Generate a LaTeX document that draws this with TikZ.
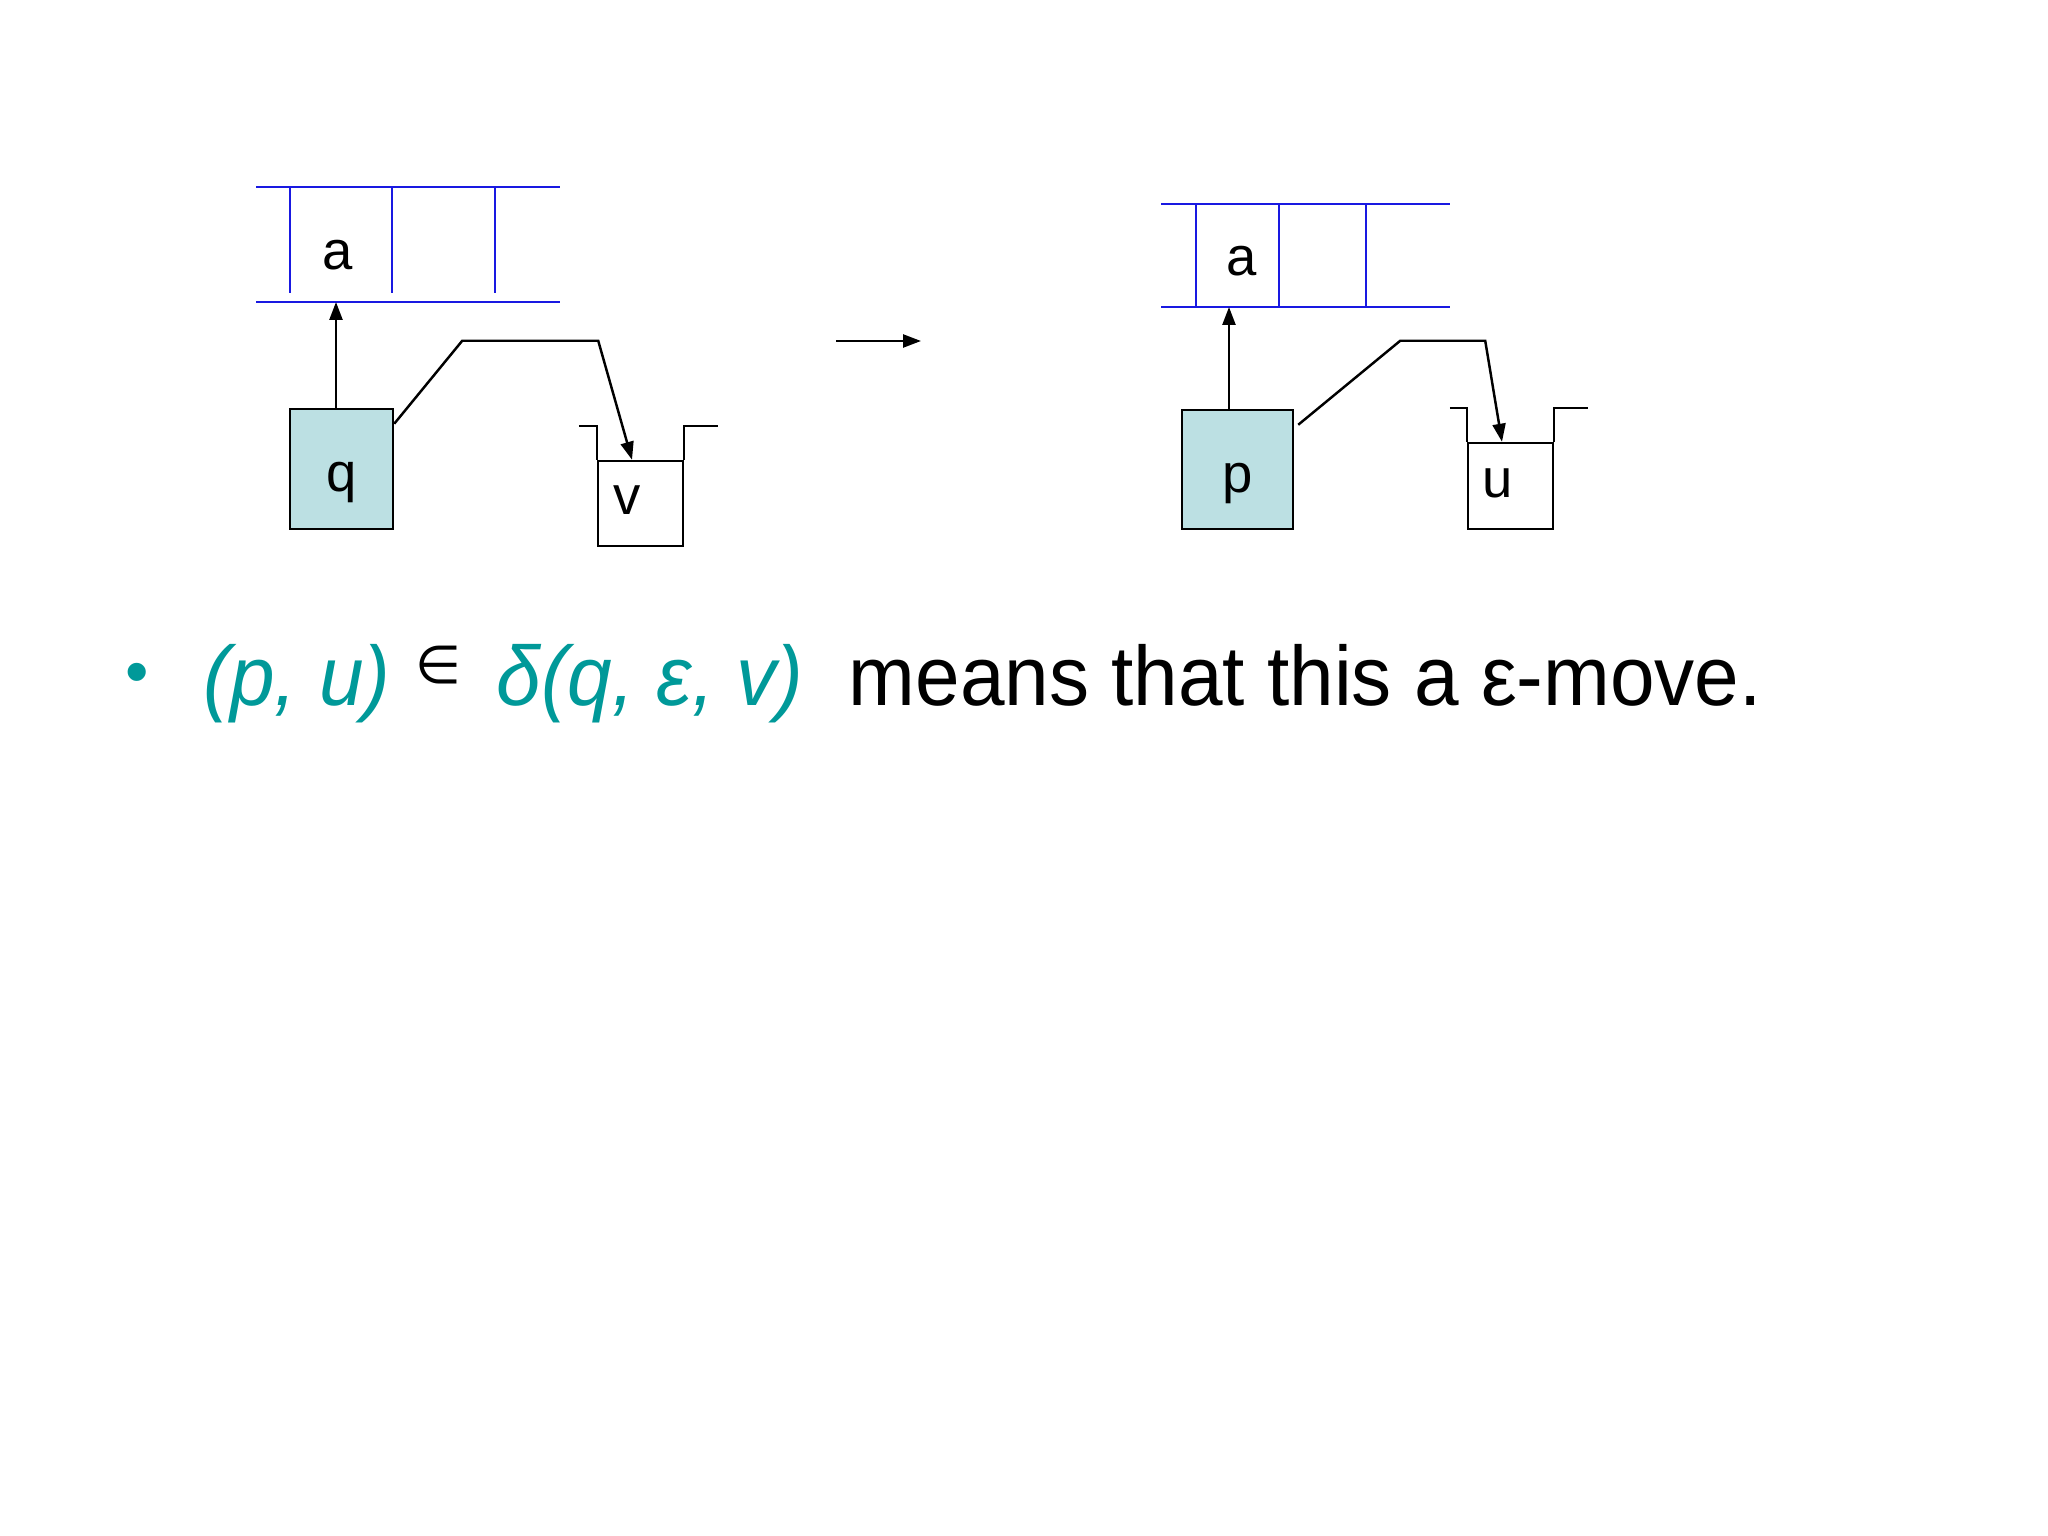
\documentclass[tikz,border=0pt]{standalone}
\usepackage{fontspec}
\setmainfont{Liberation Sans}
\newfontfamily\slidefont[FakeStretch=0.95]{Liberation Sans}
\newfontfamily\symfont{DejaVu Sans}
\usetikzlibrary{arrows.meta}

\definecolor{slideteal}{RGB}{0,153,153}
\definecolor{statefill}{RGB}{188,224,227}
\definecolor{tapeblue}{RGB}{25,25,225}

\tikzset{
  wire/.style={line width=0.7pt},
  head/.style={wire, -{Triangle[length=1.8mm,width=1.3mm]}},
  tapeline/.style={draw=tapeblue, line width=0.7pt},
  statebox/.style={draw, wire, fill=statefill, inner sep=0pt},
  stackcell/.style={draw, wire, inner sep=0pt, minimum width=0.85cm, minimum height=0.85cm},
  sym/.style={anchor=base, inner sep=0pt, font=\fontsize{15.5}{18}\selectfont},
  slide/.style={anchor=base west, inner sep=0pt, font=\slidefont\fontsize{24}{28}\selectfont},
}

\begin{document}
\begin{tikzpicture}
  \useasboundingbox (0,0) rectangle (20.48,-15.36);

  % before the move
  \draw[tapeline] (2.56,-1.87) -- (5.60,-1.87) (2.56,-3.02) -- (5.60,-3.02);
  \foreach \x in {2.90,3.92,4.95}
    \draw[tapeline] (\x,-1.87) -- (\x,-2.93);
  \coordinate (tapeL) at (3.36,-3.02);
  \node[sym] (aL) at (3.38,-2.70) {a};

  \node[statebox, minimum width=1.03cm, minimum height=1.20cm] (q) at (3.415,-4.69) {};
  \node[sym] (qlab) at (3.42,-4.92) {q};
  \draw[head] ([xshift=-0.055cm]q.north) -- ([xshift=-0.055cm]q.north |- tapeL);

  \node[stackcell] (v) at (6.405,-5.035) {};
  \node[sym] (vlab) at (6.27,-5.15) {v};
  \draw[wire] ([shift={(-0.18,0.34)}]v.north west) -- ++(0.18,0) -- (v.north west);
  \draw[wire] (v.north east) -- ++(0,0.34) -- ++(0.34,0);
  \draw[head] ([yshift=-0.16cm]q.north east) -- ++(0.68,0.83) -- ++(1.36,0)
    -- ([xshift=-0.085cm]v.north);

  % the move
  \coordinate (mvfrom) at (8.36,-3.41);
  \coordinate (mvto) at (9.21,-3.41);
  \draw[head] (mvfrom) -- (mvto);

  % after the move
  \draw[tapeline] (11.61,-2.04) -- (14.50,-2.04) (11.61,-3.07) -- (14.50,-3.07);
  \foreach \x in {11.96,12.79,13.66}
    \draw[tapeline] (\x,-2.04) -- (\x,-3.07);
  \coordinate (tapeR) at (12.29,-3.07);
  \node[sym] (aR) at (12.42,-2.76) {a};

  \node[statebox, minimum width=1.11cm, minimum height=1.19cm] (p) at (12.375,-4.695) {};
  \node[sym] (plab) at (12.38,-4.93) {p};
  \draw[head] ([xshift=-0.085cm]p.north) -- ([xshift=-0.085cm]p.north |- tapeR);

  \node[stackcell, minimum height=0.86cm] (u) at (15.105,-4.86) {};
  \node[sym] (ulab) at (14.98,-4.97) {u};
  \draw[wire] ([shift={(-0.17,0.34)}]u.north west) -- ++(0.17,0) -- (u.north west);
  \draw[wire] (u.north east) -- ++(0,0.34) -- ++(0.34,0);
  \draw[head] ([shift={(0.04,-0.16)}]p.north east) -- ++(1.02,0.84) -- ++(0.85,0)
    -- ([xshift=-0.085cm]u.north);

  % bullet line
  \node[text=slideteal, font=\fontsize{19}{20}\selectfont] (dot) at (1.37,-6.79) {•};
  \node[slide, text=slideteal] (pu) at (2.03,-7.06) {\itshape (p, u)};
  \node[anchor=base west, inner sep=0pt, font=\symfont\fontsize{15}{18}\selectfont] (in) at (4.15,-6.84) {∈};
  \node[slide, text=slideteal] (dq) at (4.96,-7.06) {\itshape δ(q, ε, v)};
  \node[slide] (txt) at (8.48,-7.06) {means that this a ε-move.};
\end{tikzpicture}
\end{document}
